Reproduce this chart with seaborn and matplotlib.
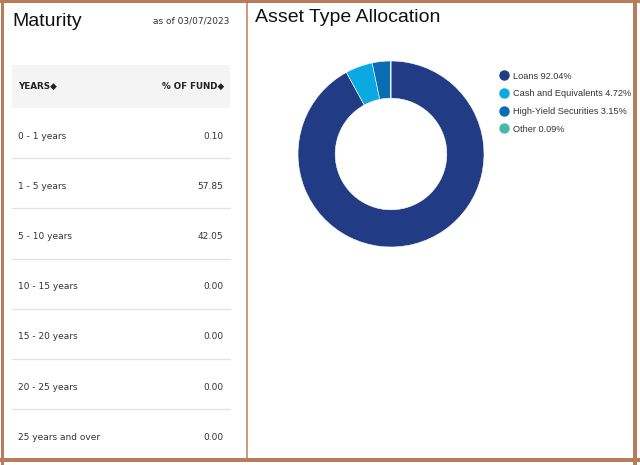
import matplotlib
matplotlib.use("Agg")
import matplotlib.pyplot as plt
from matplotlib.lines import Line2D
from matplotlib.patches import Rectangle
import seaborn as sns


# DATA
MATURITY_LABELS = ["0 - 1 years", "1 - 5 years", "5 - 10 years", "10 - 15 years",
                   "15 - 20 years", "20 - 25 years", "25 years and over"]
MATURITY_VALUES = [0.10, 57.85, 42.05, 0.00, 0.00, 0.00, 0.00]

ASSET_LABELS = ["Loans", "Cash and Equivalents", "High-Yield Securities", "Other"]
ASSET_VALUES = [92.04, 4.72, 3.15, 0.09]
ASSET_COLORS = ["#213b85", "#0aa9e1", "#0a6db3", "#46b9ad"]

AS_OF = "as of 03/07/2023"

BROWN = "#b97b5a"
TEXT = "#333333"
PX = 0.72  # one pixel in points at dpi 100


def draw_frame(ax):
    # outer brown border and the divider between panels
    ax.plot([0, 640], [1.5, 1.5], color=BROWN, lw=3 * PX)
    ax.plot([1.5, 1.5], [0, 465], color=BROWN, lw=3 * PX)
    ax.plot([635, 635], [0, 465], color=BROWN, lw=4 * PX)
    ax.plot([0, 640], [460, 460], color=BROWN, lw=4 * PX)
    ax.plot([246.5, 246.5], [0, 460], color=BROWN, lw=1.5 * PX)


def draw_maturity_table(ax):
    ax.text(12, 21, "Maturity", fontsize=14, color="#111111",
            family="Liberation Sans", va="center", ha="left")
    ax.text(229, 21, AS_OF, fontsize=6.5, color=TEXT, va="center", ha="right")

    ax.add_patch(Rectangle((12, 65), 218, 43, color="#f4f4f4", lw=0))
    ax.text(18, 86.5, "YEARS\u25C6", fontsize=6.3, fontweight="bold",
            color="#222222", va="center", ha="left")
    ax.text(224, 86.5, "% OF FUND\u25C6", fontsize=6.3, fontweight="bold",
            color="#222222", va="center", ha="right")

    row_h = 50.2
    for i, (lab, val) in enumerate(zip(MATURITY_LABELS, MATURITY_VALUES)):
        y = 136 + i * row_h
        ax.text(18, y, lab, fontsize=6.5, color=TEXT, va="center", ha="left")
        ax.text(223, y, f"{val:.2f}", fontsize=6.5, color=TEXT, va="center", ha="right")
        if i < len(MATURITY_LABELS) - 1:
            ax.plot([12, 230], [y + row_h / 2 - 3, y + row_h / 2 - 3],
                    color="#e2e2e2", lw=1.3 * PX)


def draw_donut(fig):
    fig.text(255 / 640, 1 - 18 / 465, "Asset Type Allocation", fontsize=14,
             color="#111111", family="Liberation Sans", va="center", ha="left")

    pax = fig.add_axes([298 / 640, 218 / 465, 186 / 640, 186 / 465])
    pax.pie(ASSET_VALUES, colors=sns.color_palette(ASSET_COLORS),
            startangle=90, counterclock=False, radius=1,
            wedgeprops=dict(width=0.4, edgecolor="white", linewidth=0.4))
    pax.set_xlim(-1, 1)
    pax.set_ylim(-1, 1)
    pax.set_aspect("equal")
    pax.axis("off")

    handles = [Line2D([], [], marker="o", ls="", markersize=6.5,
                      markerfacecolor=c, markeredgecolor=c) for c in ASSET_COLORS]
    labels = [f"{l} {v:.2f}%" for l, v in zip(ASSET_LABELS, ASSET_VALUES)]
    fig.legend(handles, labels, loc="upper left",
               bbox_to_anchor=(496 / 640, 1 - 67 / 465), frameon=False,
               prop={"family": "Liberation Sans", "size": 6.6},
               labelcolor=TEXT, handlelength=0.8, handletextpad=0.6,
               labelspacing=0.95, borderpad=0)


def main():
    sns.set_theme(style="white")
    plt.rcParams["font.family"] = ["DejaVu Sans"]

    fig = plt.figure(figsize=(6.4, 4.65), dpi=100, facecolor="white")
    ax = fig.add_axes([0, 0, 1, 1])
    ax.set_xlim(0, 640)
    ax.set_ylim(465, 0)
    ax.axis("off")

    draw_frame(ax)
    draw_maturity_table(ax)
    draw_donut(fig)

    fig.savefig("out.png", dpi=100, facecolor="white")


if __name__ == "__main__":
    main()
